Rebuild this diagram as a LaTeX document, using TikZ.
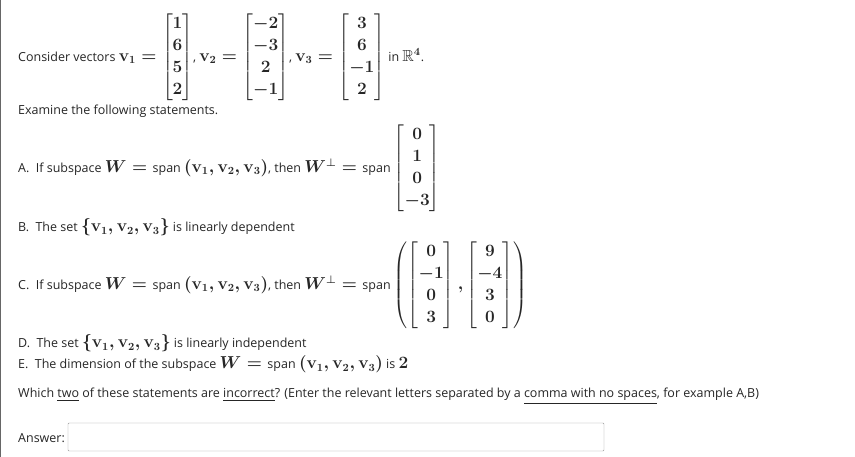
\documentclass[tikz,border=0pt]{standalone}
\usepackage{amsmath,amssymb}
\usepackage[no-math]{fontspec}
\setmainfont{Open Sans}[Scale=0.78]
\newcommand{\bv}[1]{\mathbf{v}_{\mathbf{#1}}}
\newcommand{\stxt}{\fontsize{16}{19}\selectfont\boldmath}
\renewcommand{\arraystretch}{1.15}
\begin{document}
\begin{tikzpicture}[x=1pt,y=-1pt,
  line/.style={anchor=base west,inner sep=0pt,font=\stxt,text=black!85}]
\useasboundingbox[fill=white] (0,0) rectangle (855,457);
\draw[black!60,line width=1.2pt] (0.6,0) -- (0.6,457);
\node[line,anchor=west] (l0) at (18,57) {Consider vectors $\bv1=\begin{bmatrix}1\\6\\5\\2\end{bmatrix}$, $\bv2=\begin{bmatrix}-2\\-3\\2\\-1\end{bmatrix}$, $\bv3=\begin{bmatrix}3\\6\\-1\\2\end{bmatrix}$ in $\mathbb{R}^4$.};
\node[line] (l1) at (18,115) {Examine the following statements.};
\node[line,anchor=west] (la) at (18,168) {A.\ \ If subspace $W=\text{span}\left(\bv1,\bv2,\bv3\right)$, then $W^\perp=\text{span}\begin{bmatrix}0\\1\\0\\-3\end{bmatrix}$};
\node[line] (lb) at (18,232) {B.\ \ The set $\left\{\bv1,\bv2,\bv3\right\}$ is linearly dependent};
\node[line,anchor=west] (lc) at (18,285) {C.\ \ If subspace $W=\text{span}\left(\bv1,\bv2,\bv3\right)$, then $W^\perp=\text{span}\left(\begin{bmatrix}0\\-1\\0\\3\end{bmatrix},\begin{bmatrix}9\\-4\\3\\0\end{bmatrix}\right)$};
\node[line] (ld) at (18,348) {D.\ \ The set $\left\{\bv1,\bv2,\bv3\right\}$ is linearly independent};
\node[line] (le) at (18,369) {E.\ \ The dimension of the subspace $W=\text{span}\left(\bv1,\bv2,\bv3\right)$ is $\mathbf{2}$};
\node[line] (lq) at (18,398) {Which \underline{two} of these statements are \underline{incorrect}? (Enter the relevant letters separated by a \underline{comma with no spaces}, for example A,B)};
\node[line] (ans) at (18,442) {Answer:};
\draw[black!40,rounded corners=1pt] (68,423) rectangle (604,451);
\end{tikzpicture}
\end{document}
